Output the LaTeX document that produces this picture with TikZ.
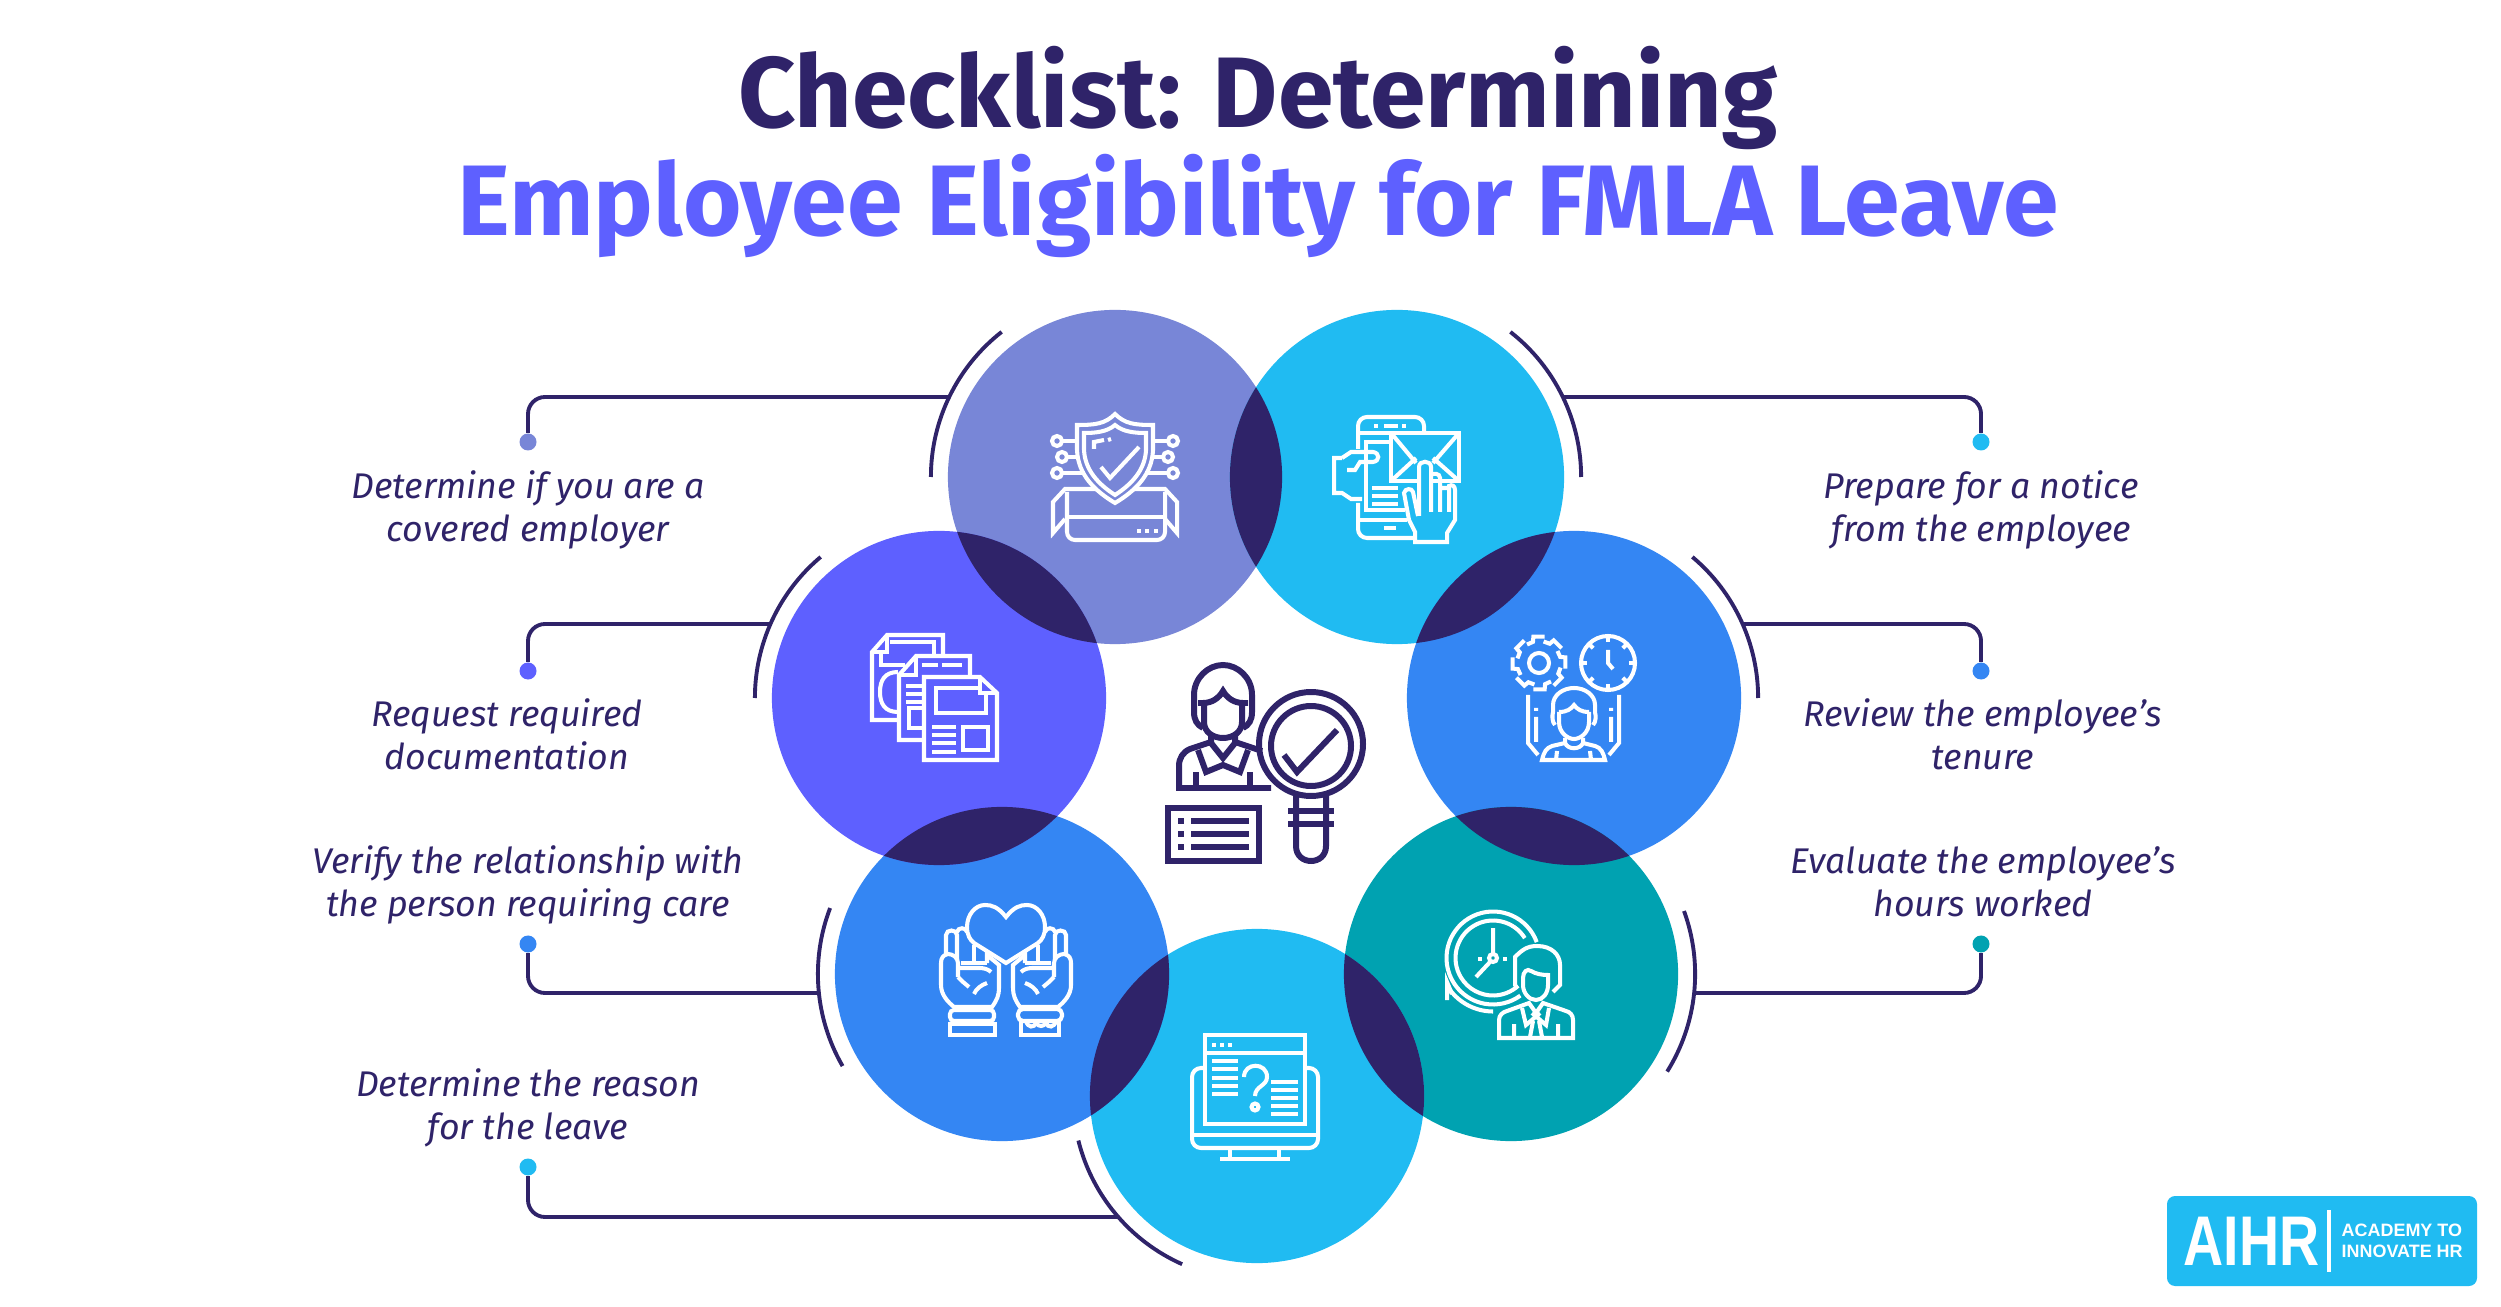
\documentclass[tikz,border=0pt]{standalone}
\usepackage{fontspec}
\setmainfont{Fira Sans}
\newfontfamily\notefont{Fira Sans}
\newfontfamily\logofont{Liberation Sans}
\definecolor{ink}{HTML}{2F2369}
\definecolor{violet}{HTML}{5E60FF}
\definecolor{lilac}{HTML}{7886D7}
\definecolor{sky}{HTML}{20BBF2}
\definecolor{azure}{HTML}{3486F3}
\definecolor{teal}{HTML}{00A2B1}
\tikzset{
  disc/.style={circle,minimum size=3.34cm,inner sep=0pt},
  ring/.style={draw=ink,line width=1.1pt},
  link/.style={draw=ink,line width=1.1pt,rounded corners=0.17cm},
  dot/.style={circle,minimum size=0.17cm,inner sep=0pt},
  note/.style={align=center,text=ink,font=\notefont\itshape\fontsize{10.15}{12.3}\selectfont},
  icon/.style={draw=white,line width=1.15pt},
  iconb/.style={draw=ink,line width=1.7pt},
}
\newcommand{\ringarc}[3]{\draw[ring] (#1.center) ++(#2:1.84cm) arc[start angle=#2,end angle=#3,radius=1.84cm];}
\newcommand{\handside}{
  \draw[icon] (958,-977) -- (958,-963) .. controls (958,-957) and (952,-954) .. (948,-954) .. controls (943,-955) and (941,-958) .. (941,-963) -- (941,-985) .. controls (941,-995) and (948,-1002) .. (954,-1007) -- (992,-1007) .. controls (997,-1000) and (999,-995) .. (999,-988) -- (999,-965) -- (987,-955) -- (987,-963);
  \draw[icon] (958,-977) -- (963,-982) -- (969,-987);
  \draw[icon] (946,-953) -- (946,-935) .. controls (946,-929) and (957,-929) .. (957,-935) -- (957,-960);
  \draw[icon] (957,-932) .. controls (958,-927) and (966,-927) .. (967,-932);
  \draw[icon] (974,-945) -- (974,-963);
  \draw[icon] (961,-963) -- (987,-963);
  \draw[icon] (960,-968) -- (980,-968) .. controls (985,-968) and (989,-970) .. (991,-972);
  \draw[icon] (974,-994) .. controls (976,-989) and (981,-985) .. (987,-983);
}
\begin{document}
\begin{tikzpicture}[x=0.01cm,y=0.01cm]
  \useasboundingbox (0,0) rectangle (2501,-1307);
  \fill[white] (0,0) rectangle (2501,-1307);

  \node[anchor=base,text=ink,font=\bfseries\fontsize{28.5}{28.5}\selectfont] (head) at (1258,-128) {Checklist: Determining};
  \node[anchor=base,text=violet,font=\bfseries\fontsize{28.5}{28.5}\selectfont] (subhead) at (1258,-236) {Employee Eligibility for FMLA Leave};

  \node[disc,fill=lilac] (c1) at (1115,-477) {};
  \node[disc,fill=sky] (c2) at (1397,-477) {};
  \node[disc,fill=azure] (c3) at (1574,-698) {};
  \node[disc,fill=teal] (c4) at (1511,-974) {};
  \node[disc,fill=sky] (c5) at (1257,-1096) {};
  \node[disc,fill=azure] (c6) at (1002,-974) {};
  \node[disc,fill=violet] (c7) at (939,-698) {};

  \foreach \a/\b in {c1/c2,c2/c3,c3/c4,c4/c5,c5/c6,c6/c7,c7/c1} {
    \begin{scope}
      \clip (\a.center) circle (1.67cm);
      \fill[ink] (\b.center) circle (1.67cm);
    \end{scope}
  }

  \ringarc{c1}{128}{180}
  \ringarc{c2}{52}{0}
  \ringarc{c3}{50}{0}
  \ringarc{c4}{20}{-32}
  \ringarc{c5}{194}{246}
  \ringarc{c6}{159}{210}
  \ringarc{c7}{130}{180}

  \node[dot,fill=lilac] (d1) at (528,-442) {};
  \node[dot,fill=sky] (d2) at (1981,-442) {};
  \node[dot,fill=azure] (d3) at (1981,-671) {};
  \node[dot,fill=teal] (d4) at (1981,-944) {};
  \node[dot,fill=sky] (d5) at (528,-1167) {};
  \node[dot,fill=azure] (d6) at (528,-944) {};
  \node[dot,fill=violet] (d7) at (528,-671) {};

  \coordinate (t1) at (949,-397);
  \coordinate (t2) at (1563,-397);
  \coordinate (t3) at (1742,-624);
  \coordinate (t4) at (1694,-993);
  \coordinate (t5) at (1118,-1217);
  \coordinate (t6) at (819,-993);
  \coordinate (t7) at (771,-624);
  \foreach \n in {1,...,7} {
    \draw[link] (t\n) -| (d\n);
  }

  \node[note] (n1) at (528,-510) {Determine if you are a\\covered employer};
  \node[note] (n2) at (1981,-510) {Prepare for a notice\\from the employee};
  \node[note] (n3) at (1983,-734) {Review the employee’s\\tenure};
  \node[note] (n4) at (1983,-882) {Evaluate the employee’s\\hours worked};
  \node[note] (n5) at (528,-1108) {Determine the reason\\for the leave};
  \node[note] (n6) at (528,-885) {Verify the relationship with\\the person requiring care};
  \node[note] (n7) at (507,-734) {Request required\\documentation};

  % shield
  \draw[icon] (1115,-414) .. controls (1105,-424) and (1095,-425) .. (1077,-425) -- (1077,-450) .. controls (1078,-475) and (1095,-491) .. (1115,-503) .. controls (1135,-491) and (1152,-475) .. (1153,-450) -- (1153,-425) .. controls (1135,-425) and (1125,-424) .. (1115,-414) -- cycle;
  \draw[icon] (1115,-425) .. controls (1107,-432) and (1095,-433) .. (1084,-433) -- (1084,-450) .. controls (1085,-470) and (1098,-484) .. (1115,-495) .. controls (1132,-484) and (1145,-470) .. (1146,-450) -- (1146,-433) .. controls (1135,-433) and (1123,-432) .. (1115,-425) -- cycle;
  \draw[icon] (1101,-467) -- (1110,-478) -- (1139,-447);
  \draw[icon] (1094,-449) -- (1094,-442) -- (1104,-440) (1108,-440) -- (1111,-439);
  \foreach \y/\cl/\il/\ir/\cr in {441/1057/1077/1153/1173,457/1062/1078/1152/1168,473/1057/1085/1145/1173} {
    \draw[icon] (\cl,-\y) circle (5);
    \draw[icon] (\cr,-\y) circle (5);
    \draw[icon] (\cl+5,-\y) -- (\il,-\y) (\ir,-\y) -- (\cr-5,-\y);
  }
  \draw[icon] (1096,-489) -- (1065,-489) -- (1053,-502) -- (1053,-533) -- (1065,-519) (1134,-489) -- (1165,-489) -- (1177,-502) -- (1177,-533) -- (1165,-519);
  \draw[icon,rounded corners=0.08cm] (1067,-492) -- (1067,-540) -- (1165,-540) -- (1165,-492);
  \draw[icon] (1067,-517) -- (1165,-517);
  \foreach \x in {1139,1147,1156} { \fill[white] (\x-2,-533) rectangle (\x+2,-529); }

  % phone and envelope
  \draw[icon,rounded corners=0.09cm] (1358,-449) -- (1358,-417) -- (1424,-417) -- (1424,-432);
  \draw[icon,rounded corners=0.09cm] (1358,-503) -- (1358,-538) -- (1415,-538);
  \draw[icon] (1358,-433) -- (1391,-433);
  \draw[icon] (1374,-426) -- (1378,-426) (1384,-426) -- (1398,-426) (1402,-426) -- (1406,-426);
  \draw[icon] (1391,-442) -- (1366,-442) -- (1366,-510) -- (1405,-510) (1358,-520) -- (1407,-520);
  \draw[icon] (1372,-488) -- (1398,-488) (1372,-496) -- (1398,-496) (1372,-504) -- (1398,-504) (1384,-528) -- (1396,-528);
  \draw[icon] (1419,-481) -- (1391,-481) -- (1391,-433) -- (1459,-433) -- (1459,-481) -- (1432,-481);
  \draw[icon] (1391,-433) -- (1416,-463) (1459,-433) -- (1433,-463) (1391,-481) -- (1416,-458) (1459,-481) -- (1433,-458);
  \draw[icon] (1342,-458) -- (1334,-458) -- (1334,-493) -- (1342,-493) -- (1351,-499) -- (1362,-499);
  \draw[icon] (1342,-458) -- (1351,-452) -- (1373,-452) .. controls (1380,-453) and (1380,-461) .. (1373,-462) -- (1360,-462) -- (1355,-470) -- (1347,-470);
  \draw[icon] (1419,-516) -- (1419,-467) .. controls (1419,-460) and (1431,-460) .. (1431,-467) -- (1431,-512);
  \draw[icon] (1431,-475) .. controls (1433,-473) and (1440,-473) .. (1440,-478) -- (1440,-512) (1440,-488) -- (1449,-488);
  \draw[icon] (1449,-512) -- (1449,-486) .. controls (1452,-484) and (1455,-486) .. (1455,-490) -- (1455,-520) -- (1447,-533) -- (1447,-542) -- (1415,-542) -- (1415,-532) -- (1409,-520) -- (1404,-493) .. controls (1405,-488) and (1412,-488) .. (1413,-492) -- (1418,-516);

  % gear, clock and person
  \foreach \a in {0,45,...,315} {
    \draw[icon] ([shift={(\a-12:27)}]1539,-663) -- ([shift={(\a+12:27)}]1539,-663) -- ([shift={(\a+16:22)}]1539,-663) -- ([shift={(\a+33:22)}]1539,-663);
    \draw[icon] ([shift={(\a:27)}]1608,-663) -- ([shift={(\a:21)}]1608,-663);
  }
  \draw[icon] (1539,-663) circle (10);
  \draw[icon] (1608,-663) circle (27);
  \draw[icon] (1608,-650) -- (1608,-663) -- (1613,-669);
  \draw[icon] (1555,-725) .. controls (1552,-722) and (1552,-716) .. (1553,-712) -- (1553,-705) .. controls (1553,-695) and (1563,-688) .. (1574,-688) .. controls (1585,-688) and (1595,-695) .. (1595,-705) -- (1595,-712) .. controls (1596,-716) and (1596,-722) .. (1593,-725);
  \draw[icon] (1559,-712) .. controls (1567,-712) and (1571,-709) .. (1574,-705) .. controls (1577,-709) and (1581,-712) .. (1589,-712);
  \draw[icon] (1559,-712) -- (1559,-722) .. controls (1559,-733) and (1568,-739) .. (1574,-739) .. controls (1580,-739) and (1589,-733) .. (1589,-722) -- (1589,-712);
  \draw[icon] (1565,-738) -- (1565,-743) -- (1552,-746) .. controls (1546,-748) and (1544,-752) .. (1542,-760) -- (1605,-760) .. controls (1603,-752) and (1601,-748) .. (1595,-746) -- (1583,-743) -- (1583,-738);
  \draw[icon] (1565,-743) .. controls (1568,-750) and (1580,-750) .. (1583,-743);
  \draw[icon] (1557,-751) -- (1556,-760) (1590,-751) -- (1591,-760);
  \draw[icon] (1528,-695) -- (1528,-743) -- (1538,-755) (1536,-717) -- (1536,-742) (1536,-708) -- (1536,-711);
  \draw[icon] (1619,-695) -- (1619,-743) -- (1609,-755) (1611,-717) -- (1611,-742) (1611,-708) -- (1611,-711);

  % clock and employee
  \draw[icon] (1493,-958) ++(20:46.5) arc[start angle=20,end angle=306,radius=46.5];
  \draw[icon] (1493,-958) ++(32:37.5) arc[start angle=32,end angle=312,radius=37.5];
  \draw[icon] (1450,-990) arc[start angle=217,end angle=270,radius=54];
  \draw[icon] (1447,-1000) -- (1447,-982) -- (1452,-994);
  \draw[icon] (1493,-928) -- (1493,-954) (1490,-962) -- (1476,-977);
  \draw[icon] (1493,-958) circle (4);
  \draw[icon] (1478,-959) -- (1482,-959) (1503,-959) -- (1507,-959);
  \draw[icon] (1517,-988) -- (1515,-985) -- (1515,-957) .. controls (1522,-950) and (1527,-946) .. (1537,-946) .. controls (1552,-946) and (1560,-955) .. (1560,-965) -- (1560,-985) -- (1553,-992);
  \draw[icon] (1523,-978) .. controls (1523,-972) and (1527,-968) .. (1531,-971) .. controls (1536,-974) and (1542,-975) .. (1548,-975) -- (1548,-985) .. controls (1548,-993) and (1543,-1000) .. (1536,-1000) .. controls (1529,-1000) and (1523,-993) .. (1523,-985) -- cycle;
  \draw[icon] (1499,-1038) -- (1499,-1020) .. controls (1499,-1015) and (1503,-1012) .. (1507,-1011) -- (1529,-1003) -- (1536,-1013) -- (1543,-1003) -- (1566,-1011) .. controls (1570,-1012) and (1573,-1015) .. (1573,-1020) -- (1573,-1038) -- cycle;
  \draw[icon] (1522,-1008) -- (1526,-1025) -- (1540,-1013) (1549,-1008) -- (1546,-1025) -- (1532,-1013);
  \draw[icon] (1533,-1021) -- (1530,-1037) (1539,-1021) -- (1542,-1037) (1514,-1024) -- (1514,-1037) (1558,-1024) -- (1558,-1037);

  % monitor
  \draw[icon] (1205,-1035) rectangle (1305,-1124);
  \draw[icon] (1205,-1053) -- (1305,-1053);
  \foreach \x in {1214,1222,1230} { \fill[white] (\x-2,-1047) rectangle (\x+2,-1043); }
  \foreach \y in {1061,1069,1078,1086,1094} { \draw[icon] (1212,-\y) -- (1238,-\y); }
  \foreach \y in {1082,1090,1098,1106,1114} { \draw[icon] (1271,-\y) -- (1298,-\y); }
  \draw[icon] (1244,-1077) .. controls (1244,-1062) and (1267,-1062) .. (1267,-1077) .. controls (1267,-1086) and (1255,-1086) .. (1255,-1096);
  \draw[icon] (1255,-1107) circle (3.5);
  \draw[icon,rounded corners=0.09cm] (1205,-1068) -- (1192,-1068) -- (1192,-1148) -- (1318,-1148) -- (1318,-1068) -- (1305,-1068);
  \draw[icon] (1192,-1135) -- (1318,-1135);
  \draw[icon] (1230,-1148) -- (1230,-1159) (1279,-1148) -- (1279,-1159) (1220,-1159) -- (1290,-1159);

  % heart in hands
  \draw[icon] (1006,-917) .. controls (998,-907) and (992,-905) .. (985,-905) .. controls (975,-905) and (967,-915) .. (967,-927) .. controls (967,-935) and (970,-940) .. (974,-943) -- (1006,-963) -- (1038,-943) .. controls (1042,-940) and (1045,-935) .. (1045,-927) .. controls (1045,-915) and (1037,-905) .. (1027,-905) .. controls (1020,-905) and (1014,-907) .. (1006,-917) -- cycle;
  \handside
  \begin{scope}[shift={(2012,0)},xscale=-1]
    \handside
  \end{scope}
  \draw[icon,rounded corners=0.04cm] (950,-1010) rectangle (994,-1021);
  \draw[icon] (950,-1024) -- (950,-1035) -- (995,-1035) -- (995,-1024) -- cycle;
  \draw[icon,rounded corners=0.05cm] (1018,-1009) rectangle (1062,-1021);
  \draw[icon] (1021,-1021) -- (1021,-1035) -- (1059,-1035) -- (1059,-1021);
  \draw[icon] (1026,-1021) .. controls (1028,-1028) and (1034,-1028) .. (1036,-1023) .. controls (1039,-1027) and (1043,-1027) .. (1046,-1023) .. controls (1048,-1028) and (1054,-1028) .. (1056,-1021);

  % documents
  \draw[icon] (899,-720) -- (872,-720) -- (872,-652) -- (887,-635) -- (943,-635) -- (943,-655);
  \draw[icon] (872,-652) -- (887,-652) -- (887,-635) (890,-642) -- (934,-642) -- (934,-655) (881,-652) -- (881,-665) -- (905,-665);
  \draw[icon] (898,-672) .. controls (885,-672) and (880,-680) .. (880,-692) .. controls (880,-704) and (885,-712) .. (898,-712);
  \draw[icon] (924,-740) -- (899,-740) -- (899,-675) -- (916,-656) -- (970,-656) -- (970,-675);
  \draw[icon] (899,-675) -- (916,-675) -- (916,-656);
  \draw[icon] (922,-665) -- (938,-665) (942,-665) -- (962,-665);
  \draw[icon] (906,-686) -- (924,-686) (906,-694) -- (924,-694) (906,-702) -- (924,-702);
  \draw[icon] (924,-708) -- (909,-708) -- (909,-728) -- (924,-728);
  \draw[icon] (924,-760) -- (924,-677) -- (980,-677) -- (997,-693) -- (997,-760) -- cycle;
  \draw[icon] (980,-677) -- (980,-693) -- (997,-693);
  \draw[icon] (978,-688) -- (936,-688) -- (936,-713) -- (986,-713) -- (986,-695);
  \draw[icon] (963,-727) rectangle (988,-750);
  \foreach \y in {727,735,743,752} { \draw[icon] (932,-\y) -- (956,-\y); }

  % person with magnifier
  \draw[iconb] (1203,-728) .. controls (1197,-725) and (1194,-720) .. (1194,-712) -- (1194,-695) .. controls (1194,-678) and (1208,-665) .. (1223,-665) .. controls (1238,-665) and (1252,-678) .. (1252,-695) -- (1252,-712) .. controls (1252,-720) and (1249,-725) .. (1243,-728);
  \draw[iconb] (1198,-703) -- (1203,-703) .. controls (1212,-703) and (1219,-698) .. (1223,-691) .. controls (1227,-698) and (1234,-703) .. (1243,-703) -- (1248,-703);
  \draw[iconb] (1204,-703) -- (1204,-722) .. controls (1204,-732) and (1213,-738) .. (1223,-738) .. controls (1233,-738) and (1242,-732) .. (1242,-722) -- (1242,-703);
  \draw[iconb] (1211,-735) -- (1211,-742) -- (1190,-749) .. controls (1183,-752) and (1179,-758) .. (1179,-766) -- (1179,-788) -- (1271,-788);
  \draw[iconb] (1235,-735) -- (1235,-742) -- (1262,-751);
  \draw[iconb] (1211,-743) -- (1223,-758) -- (1235,-743);
  \draw[iconb] (1198,-750) -- (1206,-772) -- (1223,-765) -- (1240,-772) -- (1248,-750);
  \draw[iconb] (1196,-772) -- (1196,-788) (1250,-772) -- (1250,-788);
  \draw[iconb] (1311,-744) circle (52);
  \draw[iconb] (1311,-746) circle (40);
  \draw[iconb] (1284,-755) -- (1297,-772) -- (1337,-730);
  \draw[iconb] (1296,-796) -- (1296,-846) .. controls (1296,-866) and (1326,-866) .. (1326,-846) -- (1326,-796);
  \draw[iconb] (1288,-811) -- (1334,-811) (1288,-824) -- (1334,-824);
  \draw[iconb] (1168,-808) rectangle (1259,-861);
  \foreach \y in {821,834,847} {
    \draw[iconb] (1178,-\y) -- (1184,-\y) (1191,-\y) -- (1249,-\y);
  }

  \fill[sky,rounded corners=0.08cm] (2167,-1196) rectangle (2477,-1286);
  \draw[white,line width=1pt] (2329,-1210) -- (2329,-1272);
  \node[anchor=base west,text=white,inner sep=0pt,transform shape,xscale=0.79,font=\logofont\bfseries\fontsize{20}{20}\selectfont] (brand) at (2183,-1265) {AIHR};
  \node[anchor=base west,text=white,inner sep=0pt,font=\logofont\bfseries\fontsize{5.1}{5.1}\selectfont] (tag1) at (2341,-1236) {ACADEMY TO};
  \node[anchor=base west,text=white,inner sep=0pt,font=\logofont\bfseries\fontsize{5.1}{5.1}\selectfont] (tag2) at (2341,-1257) {INNOVATE HR};
\end{tikzpicture}
\end{document}
